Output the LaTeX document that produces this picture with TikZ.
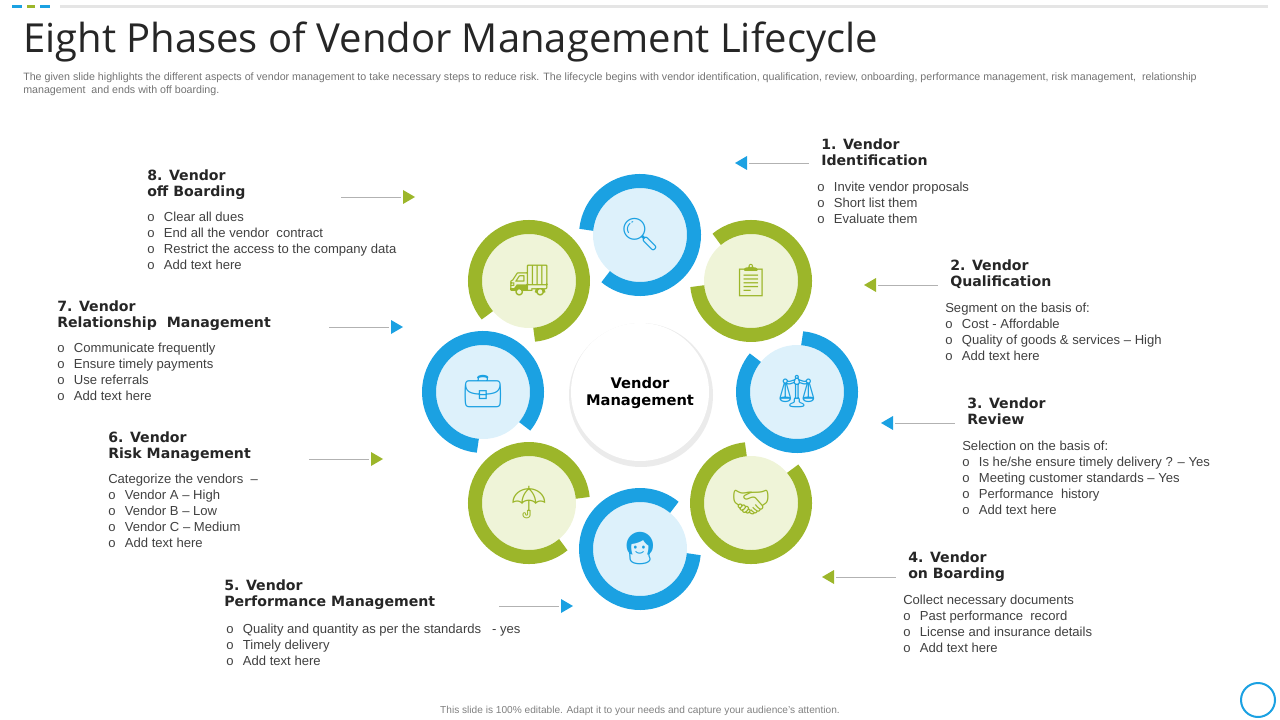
\documentclass[tikz,border=0pt]{standalone}
\usepackage{fontspec}
\usetikzlibrary{calc}
\setmainfont{Liberation Sans}
\newfontfamily\headf{DejaVu Sans}
\newfontfamily\titlef{Open Sans}
\newfontfamily\emo{Noto Emoji}
\definecolor{vblue}{HTML}{1BA1E2}
\definecolor{vgreen}{HTML}{9CB62A}
\definecolor{lblue}{HTML}{DDF1FB}
\definecolor{lgreen}{HTML}{EFF4D8}
\definecolor{txt}{HTML}{404040}
\newcommand{\bu}[1]{\makebox[12.5pt][l]{o}#1}
\tikzset{
  head/.style={anchor=north west,inner sep=0,align=left,font=\headf\bfseries\fontsize{10.6}{12.6}\selectfont,text=black!85},
  body/.style={anchor=north west,inner sep=0,align=left,font=\fontsize{9.8}{12}\selectfont,text=txt},
  icon/.style={font=\emo\fontsize{24}{24}\selectfont},
}
\begin{document}
\begin{tikzpicture}[x=0.75pt,y=-0.75pt]
\useasboundingbox (0,0) rectangle (1280,720);
% top decorations
\fill[vblue] (12,5) rectangle (22,8);
\fill[vgreen] (27,5) rectangle (35,8);
\fill[vblue] (40,5) rectangle (50,8);
\fill[black!10] (60,5) rectangle (1268,8);
\node[anchor=west,inner sep=0,font=\titlef\fontsize{30}{32}\selectfont,text=black!85] (title) at (23,42) {Eight Phases of Vendor Management Lifecycle};
\node[anchor=north west,inner sep=0,align=left,font=\fontsize{8}{9.7}\selectfont,text=black!55] (sub) at (23,73) {The given slide highlights the different aspects of vendor management to take necessary steps to reduce risk. The lifecycle begins with vendor identification, qualification, review, onboarding, performance management, risk management,\ \ relationship\\management\ \ and ends with off boarding.};
\node[font=\fontsize{7.6}{9}\selectfont,text=black!50] (foot) at (640,711) {This slide is 100\% editable. Adapt it to your needs and capture your audience's attention.};
\draw[vblue,line width=1.5pt] (1258,700) circle (17);
% rings
\foreach \k/\col/\lc/\ic in {1/vblue/lblue/{🔍},2/vgreen/lgreen/{📋},3/vblue/lblue/{⚖},4/vgreen/lgreen/{🤝},5/vblue/lblue/{👩},6/vgreen/lgreen/{☂},7/vblue/lblue/{💼},8/vgreen/lgreen/{🚚}}{
  \pgfmathsetmacro\th{-90+45*(\k-1)}
  \pgfmathsetmacro\g{\th-112.5}
  \coordinate (r\k) at ($(640,392)+(\th:157)$);
  \fill[\lc] (r\k) circle (47);
  \draw[\col,line width=10.5pt] ($(r\k)+(\g+28:54)$) arc[start angle=\g+28,end angle=\g+332,radius=54];
  \node[icon,text=\col] (ic\k) at (r\k) {\ic};
}
\fill[black!8] (641,395) circle (72);
\fill[white] (640,392) circle (69);
\node[align=center,font=\headf\bfseries\fontsize{11}{13}\selectfont] (center) at (640,393) {Vendor\\Management};
% arrows
\foreach \n/\a/\b/\col/\dir in {a1/741/163/vblue/1,a2/870/285/vgreen/1,a3/887/423/vblue/1,a4/828/577/vgreen/1,a5/567/606/vblue/-1,a6/377/459/vgreen/-1,a7/397/327/vblue/-1,a8/409/197/vgreen/-1}{
  \coordinate (\n) at (\a,\b);
  \coordinate (\n e) at (\a+\dir*68,\b);
  \draw[black!30,line width=0.6pt] ($(\n)+(\dir*8,0)$) -- (\n e);
  \fill[\col] ($(\n)+(-\dir*6,0)$) -- ($(\n)+(\dir*6,-7)$) -- ($(\n)+(\dir*6,7)$) -- cycle;
}
% texts
\node[head] (h1) at (821,138) {1. Vendor\\Identification};
\node[body] (b1) at (817,182) {\bu{Invite vendor proposals}\\\bu{Short list them}\\\bu{Evaluate them}};
\node[head] (h2) at (950,259) {2. Vendor\\Qualification};
\node[body] (b2) at (945,303) {Segment on the basis of:\\\bu{Cost - Affordable}\\\bu{Quality of goods \& services -- High}\\\bu{Add text here}};
\node[head] (h3) at (967,397) {3. Vendor\\Review};
\node[body] (b3) at (962,441) {Selection on the basis of:\\\bu{Is he/she ensure timely delivery\ ? -- Yes}\\\bu{Meeting customer standards -- Yes}\\\bu{Performance\ \ history}\\\bu{Add text here}};
\node[head] (h4) at (908,551) {4. Vendor\\on Boarding};
\node[body] (b4) at (903,595) {Collect necessary documents\\\bu{Past performance\ \ record}\\\bu{License and insurance details}\\\bu{Add text here}};
\node[head] (h5) at (224,579) {5. Vendor\\Performance Management};
\node[body] (b5) at (226,624) {\bu{Quality and quantity as per the standards\ \ \ - yes}\\\bu{Timely delivery}\\\bu{Add text here}};
\node[head] (h6) at (108,431) {6. Vendor\\Risk Management};
\node[body] (b6) at (108,474) {Categorize the vendors\ \ --\\\bu{Vendor A -- High}\\\bu{Vendor B -- Low}\\\bu{Vendor C -- Medium}\\\bu{Add text here}};
\node[head] (h7) at (57,300) {7. Vendor\\Relationship\ \ Management};
\node[body] (b7) at (57,343) {\bu{Communicate frequently}\\\bu{Ensure timely payments}\\\bu{Use referrals}\\\bu{Add text here}};
\node[head] (h8) at (147,169) {8. Vendor\\off Boarding};
\node[body] (b8) at (147,212) {\bu{Clear all dues}\\\bu{End all the vendor\ \ contract}\\\bu{Restrict the access to the company data}\\\bu{Add text here}};
\end{tikzpicture}
\end{document}
